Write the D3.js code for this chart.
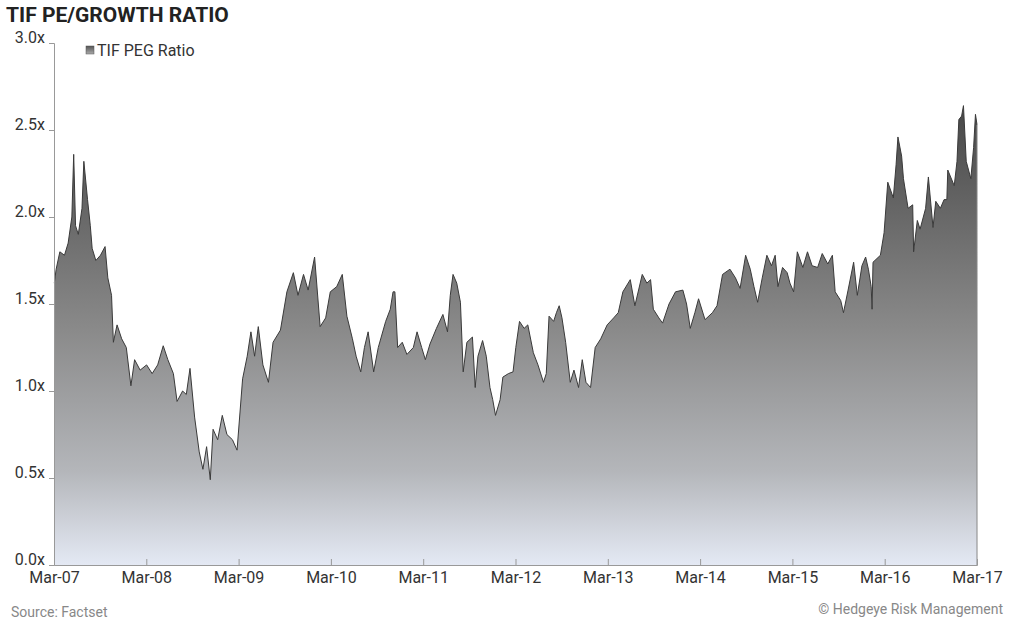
<!DOCTYPE html>
<html>
<head>
<meta charset="utf-8">
<script src="https://cdn.jsdelivr.net/npm/d3@7"></script>
<style>
  body { margin: 0; background: #fff; }
  text { font-family: Roboto, "Liberation Sans", sans-serif; }
</style>
</head>
<body>
<div id="chart"></div>
<script>
const years = [
  2007.17,2007.19,2007.23,2007.28,2007.32,2007.36,2007.38,2007.40,2007.43,2007.47,2007.49,2007.53,2007.56,2007.58,2007.62,2007.67,2007.72,2007.75,2007.79,2007.81,2007.85,2007.90,2007.95,
  2008.00,2008.04,2008.10,2008.17,2008.23,2008.29,2008.35,2008.40,2008.46,2008.50,2008.56,2008.60,2008.64,2008.69,2008.74,2008.78,2008.82,2008.86,2008.89,2008.94,2008.99,
  2009.04,2009.10,2009.15,2009.21,2009.26,2009.30,2009.34,2009.38,2009.43,2009.49,2009.54,2009.62,2009.69,2009.76,2009.81,2009.87,2009.92,2009.99,
  2010.05,2010.11,2010.16,2010.23,2010.29,2010.34,2010.40,2010.44,2010.49,2010.53,2010.57,2010.63,2010.68,2010.76,2010.81,2010.84,2010.86,2010.89,2010.94,2010.99,
  2011.06,2011.10,2011.15,2011.19,2011.24,2011.31,2011.38,2011.43,2011.46,2011.49,2011.53,2011.57,2011.60,2011.64,2011.70,2011.73,2011.76,2011.81,2011.85,2011.89,2011.92,2011.95,
  2012.00,2012.03,2012.09,2012.14,2012.17,2012.21,2012.26,2012.30,2012.36,2012.41,2012.47,2012.50,2012.53,2012.58,2012.61,2012.64,2012.67,2012.71,2012.76,2012.80,2012.85,2012.89,2012.93,2012.98,
  2013.03,2013.09,2013.16,2013.23,2013.28,2013.33,2013.41,2013.46,2013.54,2013.59,2013.63,2013.66,2013.72,2013.76,2013.83,2013.90,2013.98,
  2014.02,2014.06,2014.11,2014.15,2014.22,2014.30,2014.35,2014.41,2014.49,2014.55,2014.60,2014.66,2014.71,2014.75,2014.79,2014.84,2014.89,2014.94,2014.98,
  2015.01,2015.06,2015.11,2015.14,2015.18,2015.22,2015.28,2015.33,2015.38,2015.44,2015.49,2015.55,2015.60,2015.63,2015.69,2015.72,2015.77,2015.83,2015.87,2015.92,2015.96,2015.99,
  2016.02,2016.03,2016.04,2016.12,2016.16,2016.20,2016.26,2016.29,2016.31,2016.35,2016.37,2016.42,2016.47,2016.48,2016.52,2016.55,2016.61,2016.64,2016.69,2016.72,2016.77,2016.81,2016.84,2016.85,2016.92,2016.95,2016.97,
  2017.00,2017.02,2017.05,2017.10,2017.13,2017.15,2017.167
];
const peg = [
  1.62,1.70,1.80,1.78,1.85,2.00,2.36,1.95,1.90,2.05,2.32,2.10,1.95,1.82,1.75,1.78,1.83,1.65,1.55,1.28,1.38,1.30,1.25,
  1.03,1.18,1.12,1.15,1.10,1.15,1.26,1.18,1.10,0.94,1.00,0.98,1.13,0.85,0.65,0.55,0.68,0.49,0.78,0.72,0.86,
  0.75,0.72,0.66,1.07,1.20,1.34,1.20,1.37,1.15,1.05,1.28,1.35,1.57,1.68,1.55,1.67,1.58,1.77,
  1.37,1.42,1.57,1.60,1.67,1.43,1.30,1.20,1.11,1.25,1.34,1.11,1.25,1.40,1.47,1.57,1.57,1.25,1.28,1.21,
  1.25,1.34,1.25,1.18,1.27,1.36,1.44,1.34,1.55,1.67,1.62,1.51,1.11,1.28,1.31,1.02,1.20,1.29,1.20,1.02,0.95,0.86,
  0.95,1.08,1.10,1.11,1.25,1.40,1.36,1.38,1.22,1.15,1.05,1.10,1.43,1.40,1.45,1.49,1.42,1.28,1.05,1.12,1.02,1.18,1.05,1.02,
  1.25,1.30,1.38,1.42,1.45,1.57,1.64,1.49,1.67,1.62,1.64,1.47,1.42,1.39,1.50,1.57,1.58,
  1.50,1.36,1.45,1.53,1.41,1.45,1.49,1.67,1.70,1.65,1.59,1.78,1.70,1.60,1.51,1.65,1.78,1.72,1.78,
  1.60,1.71,1.68,1.62,1.57,1.80,1.71,1.80,1.72,1.71,1.79,1.73,1.78,1.57,1.52,1.45,1.58,1.74,1.55,1.72,1.77,1.70,
  1.60,1.47,1.74,1.78,1.91,2.20,2.11,2.30,2.46,2.35,2.22,2.05,2.07,1.80,1.98,1.93,2.05,2.23,1.94,2.09,2.05,2.10,2.10,2.27,2.18,2.32,2.56,
  2.58,2.64,2.32,2.22,2.40,2.59,2.53
];
const tickYears = d3.range(2007, 2018);
const yTicks = [0, 0.5, 1.0, 1.5, 2.0, 2.5, 3.0];

const width = 1015, height = 631;
const margin = { top: 43, right: 38, bottom: 66, left: 54 };

const svg = d3.select("#chart").append("svg")
  .attr("width", width)
  .attr("height", height);

const x = d3.scaleLinear()
  .domain([2007 + 2 / 12, 2017 + 2 / 12])
  .range([margin.left, width - margin.right]);
const y = d3.scaleLinear()
  .domain([0, 3])
  .range([height - margin.bottom, margin.top]);

const defs = svg.append("defs");
const grad = defs.append("linearGradient")
  .attr("id", "fill")
  .attr("gradientUnits", "userSpaceOnUse")
  .attr("x1", 0).attr("x2", 0)
  .attr("y1", y(2.7)).attr("y2", y(0));
grad.append("stop").attr("offset", "0%").attr("stop-color", "#444444");
grad.append("stop").attr("offset", "50%").attr("stop-color", "#8a8a8a");
grad.append("stop").attr("offset", "80%").attr("stop-color", "#b4b6ba");
grad.append("stop").attr("offset", "100%").attr("stop-color", "#e4e9f4");

const legGrad = defs.append("linearGradient")
  .attr("id", "legfill")
  .attr("x1", 0).attr("x2", 0).attr("y1", 0).attr("y2", 1);
legGrad.append("stop").attr("offset", "0%").attr("stop-color", "#555");
legGrad.append("stop").attr("offset", "100%").attr("stop-color", "#aaa");

const data = years.map((t, i) => ({ t, v: peg[i] }));

svg.append("path")
  .datum(data)
  .attr("fill", "url(#fill)")
  .attr("d", d3.area().x(d => x(d.t)).y0(y(0)).y1(d => y(d.v)));

svg.append("path")
  .datum(data)
  .attr("fill", "none")
  .attr("stroke", "#3a3a3a")
  .attr("stroke-width", 1)
  .attr("d", d3.line().x(d => x(d.t)).y(d => y(d.v)));

// right edge of the area
svg.append("line")
  .attr("x1", x(years[years.length - 1])).attr("x2", x(years[years.length - 1]))
  .attr("y1", y(0)).attr("y2", y(peg[peg.length - 1]))
  .attr("stroke", "#888").attr("stroke-width", 1);

// y axis
const yAxis = svg.append("g")
  .attr("transform", `translate(${margin.left},0)`)
  .call(d3.axisLeft(y).tickValues(yTicks).tickSize(5).tickFormat(d => d.toFixed(1) + "x"));
yAxis.select(".domain").attr("stroke", "#999");
yAxis.selectAll(".tick line").attr("stroke", "#999");
yAxis.selectAll(".tick text")
  .attr("x", -9).attr("dy", "-0.05em")
  .attr("font-size", 16).attr("fill", "#333");

// x axis
const xAxis = svg.append("g")
  .attr("transform", `translate(0,${y(0)})`)
  .call(d3.axisBottom(x).tickValues(tickYears.map(yr => yr + 2 / 12)).tickSize(-6)
    .tickFormat(d => "Mar-" + String(Math.round(d - 2 / 12) % 100).padStart(2, "0")));
xAxis.select(".domain").attr("stroke", "#999");
xAxis.selectAll(".tick line").attr("stroke", "#999");
xAxis.selectAll(".tick text")
  .attr("y", 7).attr("font-size", 16).attr("fill", "#333");

// title
svg.append("text")
  .attr("x", 6).attr("y", 22)
  .attr("font-size", 21).attr("font-weight", "bold").attr("fill", "#222")
  .text("TIF PE/GROWTH RATIO");

// legend
svg.append("rect")
  .attr("x", 86).attr("y", 46).attr("width", 8).attr("height", 8)
  .attr("fill", "url(#legfill)").attr("stroke", "#555").attr("stroke-width", 0.5);
svg.append("text")
  .attr("x", 97).attr("y", 56)
  .attr("font-size", 16).attr("fill", "#333")
  .text("TIF PEG Ratio");

// footer
svg.append("text")
  .attr("x", 11).attr("y", 617)
  .attr("font-size", 14).attr("fill", "#888")
  .text("Source: Factset");
svg.append("text")
  .attr("x", 1003).attr("y", 614).attr("text-anchor", "end")
  .attr("font-size", 14).attr("fill", "#888")
  .text("© Hedgeye Risk Management");
</script>
</body>
</html>
